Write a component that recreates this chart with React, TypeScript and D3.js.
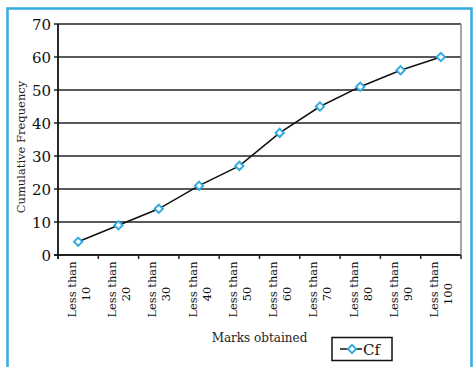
import * as d3 from 'd3'
import React from 'react'

const categories = ['10', '20', '30', '40', '50', '60', '70', '80', '90', '100']
const cf = [4, 9, 14, 21, 27, 37, 45, 51, 56, 60]
const yTicks = [0, 10, 20, 30, 40, 50, 60, 70]

const W = 474
const H = 367
const left = 58
const right = 461
const top = 24
const bottom = 255

const serif = 'DejaVu Serif'
const blue = '#33ace0'

const App = () => {
  const x = d3.scaleBand().domain(categories).range([left, right])
  const y = d3.scaleLinear().domain([0, 70]).range([bottom, top])
  const line = d3
    .line<number>()
    .x((d, i) => x(categories[i]) + x.bandwidth() / 2)
    .y((d) => y(d))
  const marker = d3.symbol(d3.symbolSquare, 34)()
  const bounds = categories.map((c) => x(c)).slice(1).concat([right])

  return (
    <svg width={W} height={H} style={{ position: 'absolute', left: 0, top: 0, background: '#fff' }}>
      <rect x={7.5} y={8.5} width={464} height={380} fill="none" stroke={blue} strokeWidth={2.5} />

      {/* grid */}
      {yTicks.map((t) => (
        <g key={t}>
          <line x1={left - 4} x2={right} y1={y(t)} y2={y(t)} stroke="#222" strokeWidth={t === 0 ? 1.8 : 1.5} />
          <text x={51} y={y(t) + 5.5} textAnchor="end" fontFamily={serif} fontSize={15} fill="#111">
            {t}
          </text>
        </g>
      ))}
      <line x1={left} x2={left} y1={top} y2={bottom + 4} stroke="#111" strokeWidth={1.8} />
      <line x1={right} x2={right} y1={top} y2={bottom} stroke="#888" strokeWidth={1.5} />
      {bounds.map((b, i) => (
        <line key={i} x1={b} x2={b} y1={bottom} y2={bottom + 4} stroke="#222" strokeWidth={1.5} />
      ))}

      {/* x labels */}
      {categories.map((c) => {
        const cx = x(c) + x.bandwidth() / 2
        return (
          <g key={c} fontFamily={serif} fontSize={11.5} fill="#111">
            <text transform={`translate(${cx - 2.5},289.5) rotate(-90)`} textAnchor="middle">
              Less than
            </text>
            <text transform={`translate(${cx + 11.5},294) rotate(-90)`} textAnchor="middle">
              {c}
            </text>
          </g>
        )
      })}

      <text transform="translate(25,147) rotate(-90)" textAnchor="middle" fontFamily={serif} fontSize={11.5} fill="#222">
        Cumulative Frequency
      </text>
      <text x={259.5} y={342} textAnchor="middle" fontFamily={serif} fontSize={12} fill="#222">
        Marks obtained
      </text>

      {/* series */}
      <path d={line(cf)} fill="none" stroke="#111" strokeWidth={1.5} />
      {cf.map((v, i) => (
        <path
          key={i}
          d={marker}
          transform={`translate(${x(categories[i]) + x.bandwidth() / 2},${y(v)}) rotate(45)`}
          fill="#fff"
          stroke={blue}
          strokeWidth={2}
        />
      ))}

      {/* legend */}
      <rect x={332} y={337.5} width={60} height={23} fill="#fff" stroke="#111" strokeWidth={1.5} />
      <line x1={340} x2={362} y1={349} y2={349} stroke="#111" strokeWidth={1.5} />
      <path d={marker} transform="translate(352,349) rotate(45)" fill="#fff" stroke={blue} strokeWidth={2} />
      <text x={363} y={355} fontFamily={serif} fontSize={15} fill="#111">
        Cf
      </text>
    </svg>
  )
}

export default App
